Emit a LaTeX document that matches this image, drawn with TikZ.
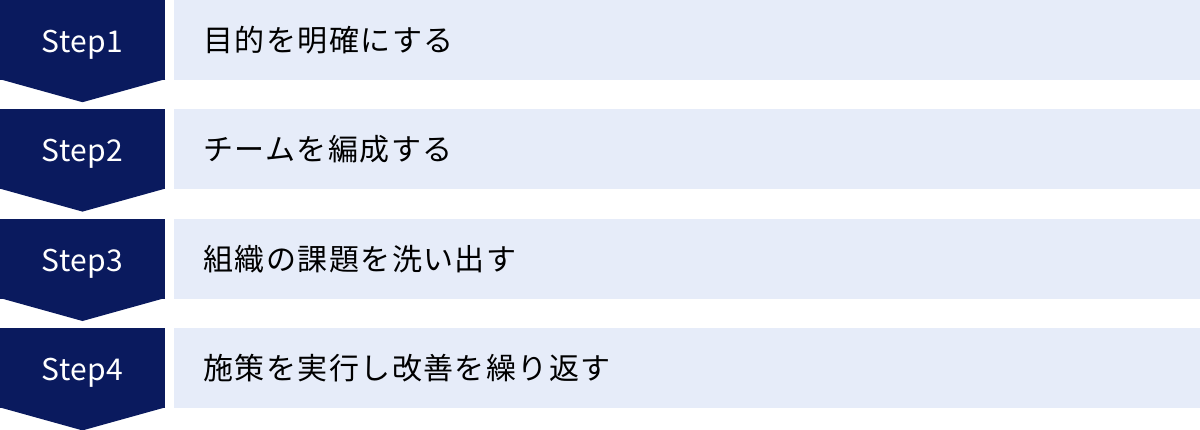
\documentclass[tikz,border=0pt]{standalone}
\usepackage{fontspec}
\usepackage{xcolor}
\newfontfamily\stepfont{Noto Sans CJK JP}[LetterSpace=2]
\newfontfamily\jpfont{Noto Sans CJK JP}[LetterSpace=4.8]
\definecolor{stepnavy}{HTML}{0A1A5E}
\definecolor{tasklight}{HTML}{E6ECF9}
\usetikzlibrary{positioning}

\begin{document}
\begin{tikzpicture}[node distance=29pt,
    stepbox/.style={rectangle, fill=stepnavy, text=white, minimum width=165pt, minimum height=80pt, inner sep=0pt, text height=24.5pt, text depth=0pt, font=\stepfont\fontsize{30}{36}\selectfont},
    taskbox/.style={rectangle, fill=tasklight, text=black, minimum width=1026pt, minimum height=80pt, text width=968pt, inner xsep=29pt, inner ysep=0pt, text height=23pt, text depth=0pt, align=left, font=\jpfont\fontsize{30}{36}\selectfont},
    steptip/.style={fill=stepnavy}]
    \useasboundingbox (0,0) rectangle (1200pt,-429pt);
    % definisci i nodi
    \node (step1) [stepbox] at (82.5pt,-40pt) {Step1};
    \node (step2) [stepbox, below=of step1] {Step2};
    \node (step3) [stepbox, below=of step2] {Step3};
    \node (step4) [stepbox, below=of step3] {Step4};
    \node (task1) [taskbox, right=9pt of step1] {目的を明確にする};
    \node (task2) [taskbox, right=9pt of step2] {チームを編成する};
    \node (task3) [taskbox, right=9pt of step3] {組織の課題を洗い出す};
    \node (task4) [taskbox, right=9pt of step4] {施策を実行し改善を繰り返す};

    % punte delle frecce
    \fill [steptip] ([yshift=1pt]step1.south west) -- ([yshift=-22pt]step1.south) -- ([yshift=1pt]step1.south east) -- cycle;
    \fill [steptip] ([yshift=1pt]step2.south west) -- ([yshift=-22pt]step2.south) -- ([yshift=1pt]step2.south east) -- cycle;
    \fill [steptip] ([yshift=1pt]step3.south west) -- ([yshift=-22pt]step3.south) -- ([yshift=1pt]step3.south east) -- cycle;
    \fill [steptip] ([yshift=1pt]step4.south west) -- ([yshift=-22pt]step4.south) -- ([yshift=1pt]step4.south east) -- cycle;
\end{tikzpicture}
\end{document}
